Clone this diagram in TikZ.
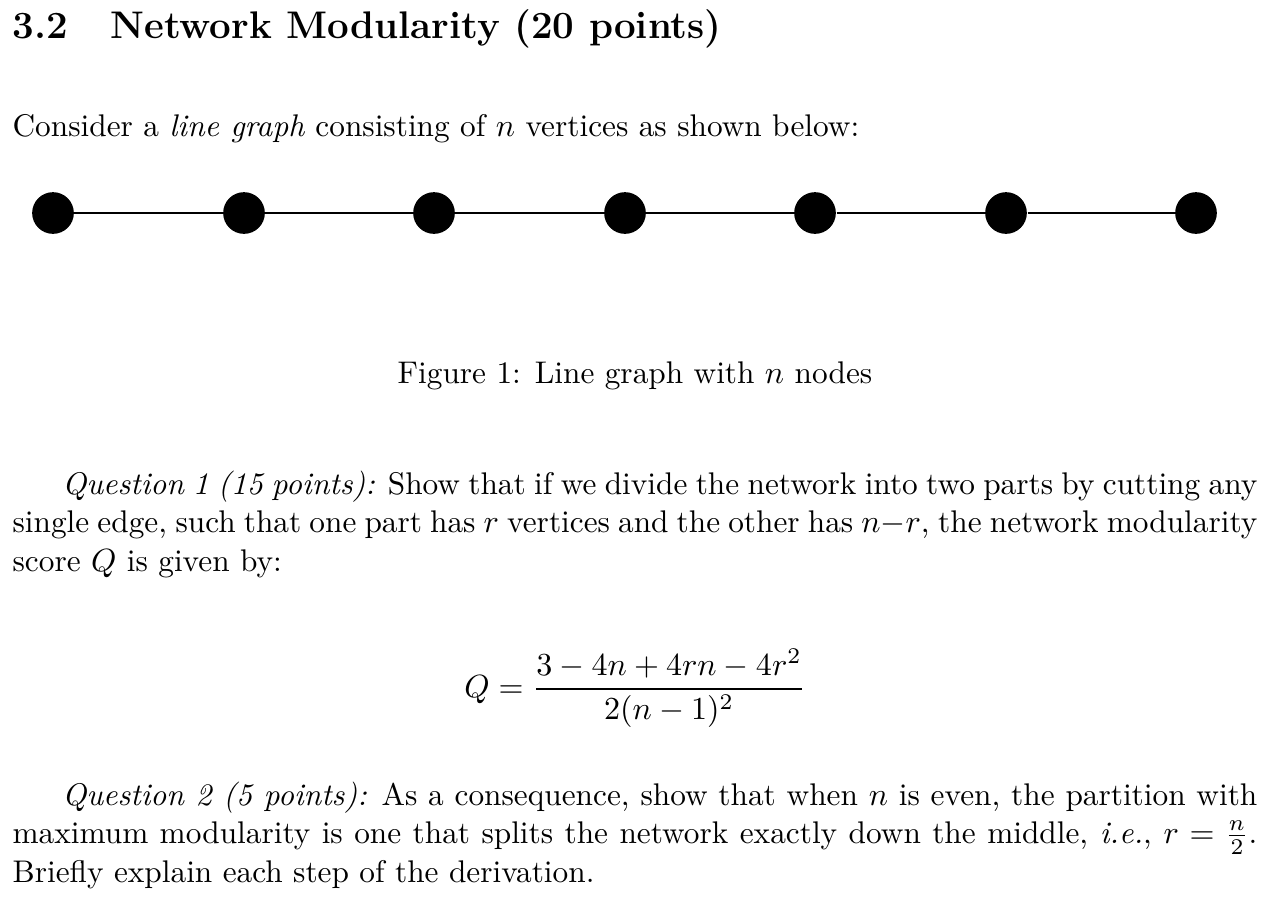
\documentclass[tikz,border=0pt]{standalone}
\usepackage{amsmath}
\begin{document}
\begin{tikzpicture}[x=0.3117pt,y=-0.3117pt,
  vtx/.style={circle,fill=black,inner sep=0pt,minimum size=13pt},
  para/.style={anchor=base west,inner sep=0pt}]
\useasboundingbox (0,0) rectangle (1287,918);
\node[para] (h) at (12,38) {\large\bfseries 3.2\hspace{1em}\hspace{0.1em}Network Modularity (20 points)};
\node[para] (c) at (12,136) {\fontsize{9.76}{12}\selectfont Consider a \textit{line graph} consisting of $n$ vertices as shown below:};
\foreach \i/\x in {1/53,2/244,3/434,4/625,5/815,6/1006,7/1196}
  \node[vtx] (v\i) at (\x,213) {};
\foreach \i/\j in {1/2,2/3,3/4,4/5,5/6,6/7}
  \draw[line width=0.8pt] (v\i) -- (v\j);
\node[anchor=base,inner sep=0pt] (cap) at (635,383) {\fontsize{9.76}{12}\selectfont Figure 1: Line graph with $n$ nodes};
\node[para] (q1) at (12,494) {\parbox[t]{388pt}{\fontsize{9.76}{12}\selectfont\parindent=15.5pt\indent
\textit{Question 1 (15 points):} Show that if we divide the network into two parts by cutting any single edge, such that one part has $r$ vertices and the other has $n{-}r$, the network modularity score $Q$ is given by:}};
\node[anchor=base,inner sep=0pt] (eq) at (635,697) {\fontsize{9.76}{12}\selectfont$\displaystyle Q=\frac{3-4n+4rn-4r^2}{2(n-1)^2}$};
\node[para] (q2) at (12,805) {\parbox[t]{388pt}{\fontsize{9.76}{12}\selectfont\parindent=15.5pt\indent
\textit{Question 2 (5 points):} As a consequence, show that when $n$ is even, the partition with maximum modularity is one that splits the network exactly down the middle, \textit{i.e.}, $r=\frac{n}{2}$. Briefly explain each step of the derivation.}};
\end{tikzpicture}
\end{document}
